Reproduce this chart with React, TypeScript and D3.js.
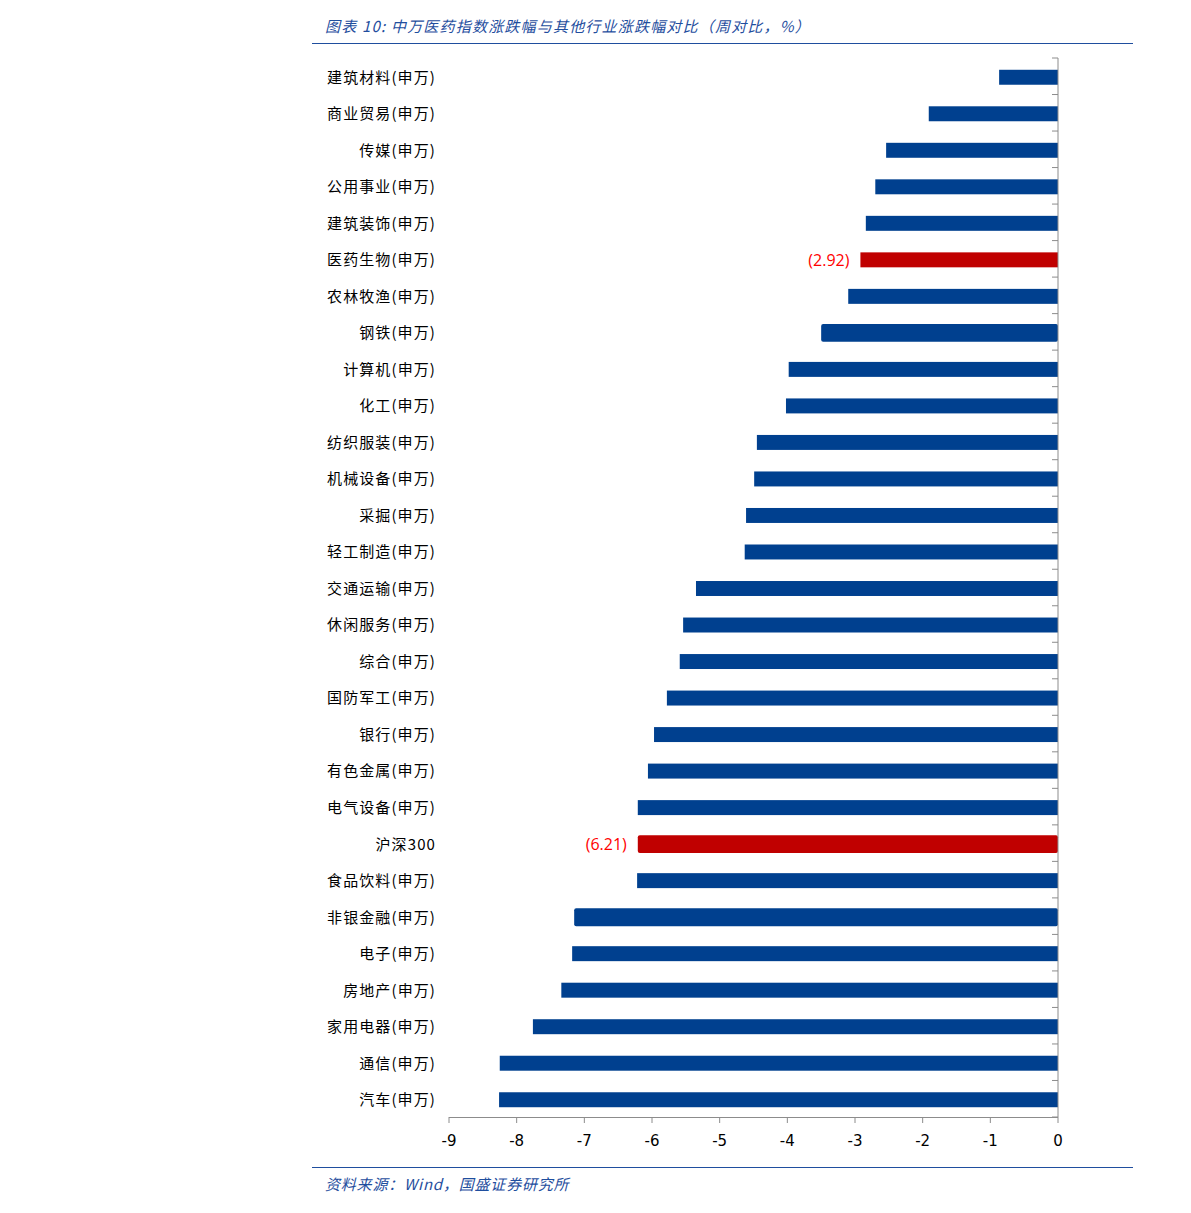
import React from "react";
import * as d3 from "d3";

const categories = [
  "建筑材料(申万)", "商业贸易(申万)", "传媒(申万)", "公用事业(申万)", "建筑装饰(申万)",
  "医药生物(申万)", "农林牧渔(申万)", "钢铁(申万)", "计算机(申万)", "化工(申万)",
  "纺织服装(申万)", "机械设备(申万)", "采掘(申万)", "轻工制造(申万)", "交通运输(申万)",
  "休闲服务(申万)", "综合(申万)", "国防军工(申万)", "银行(申万)", "有色金属(申万)",
  "电气设备(申万)", "沪深300", "食品饮料(申万)", "非银金融(申万)", "电子(申万)",
  "房地产(申万)", "家用电器(申万)", "通信(申万)", "汽车(申万)",
];
const values = [
  -0.87, -1.91, -2.54, -2.70, -2.84,
  -2.92, -3.10, -3.50, -3.98, -4.02,
  -4.45, -4.49, -4.61, -4.63, -5.35,
  -5.54, -5.59, -5.78, -5.97, -6.06,
  -6.21, -6.21, -6.22, -7.15, -7.18,
  -7.34, -7.76, -8.25, -8.26,
];
const highlighted = ["医药生物(申万)", "沪深300"];
const thickBars = ["钢铁(申万)", "沪深300", "非银金融(申万)"];
const xTicks = [-9, -8, -7, -6, -5, -4, -3, -2, -1, 0];
const titleText = "图表 10:  中万医药指数涨跌幅与其他行业涨跌幅对比（周对比，%）";
const sourceText = "资料来源：Wind，国盛证券研究所";

const BLUE = "#00408F";
const RED = "#C00000";
const AXIS = "#8C8C8C";
const TITLE_BLUE = "#1F4E9E";

export default function App() {
  const W = 1191, H = 1213;
  const x = d3.scaleLinear().domain([-9, 0]).range([449, 1058]);
  const y = d3.scaleBand<string>().domain(categories).range([58, 1117]).paddingInner(0.59).paddingOuter(0.3);
  const band = d3.scaleBand<string>().domain(categories).range([59, 1118]);
  const fmt = (v: number) => `(${Math.abs(v).toFixed(2)})`;
  const cjk = "'Noto Sans CJK SC', 'Noto Sans', sans-serif";
  return (
    <svg width={W} height={H} style={{ position: "absolute", left: 0, top: 0, background: "#fff" }}>
      {/* title */}
      <text x={325} y={32} fontFamily={cjk} fontSize={15} fontStyle="italic" fill={TITLE_BLUE}
        letterSpacing={1.2}>{titleText}</text>
      <line x1={312} x2={1133} y1={43.5} y2={43.5} stroke={TITLE_BLUE} strokeWidth={1.2} />

      {/* bars */}
      {categories.map((c, i) => {
        const v = values[i];
        const bw = y.bandwidth();
        const thick = thickBars.includes(c);
        const h = thick ? bw + 3 : bw;
        const cy = (band(c) as number) + band.bandwidth() / 2;
        const isHi = highlighted.includes(c);
        return (
          <g key={c}>
            <rect x={x(v)} y={cy - h / 2} width={x(0) - x(v)} height={h}
              fill={isHi ? RED : BLUE} rx={thick ? 2 : 0} />
            {isHi && (
              <text x={x(v) - 11} y={cy} dy="0.36em" textAnchor="end" fontSize={16}
                fontFamily="'Open Sans', 'Liberation Sans', sans-serif" fill="#FF0000">{fmt(v)}</text>
            )}
            <text x={436} y={cy} dy="0.36em" textAnchor="end" fontSize={15} fontFamily={cjk}
              letterSpacing={1.1} fill="#000">{c}</text>
          </g>
        );
      })}

      {/* vertical axis at zero */}
      <line x1={x(0)} x2={x(0)} y1={58} y2={1117} stroke={AXIS} strokeWidth={1} />
      {d3.range(categories.length + 1).map((k) => {
        const yy = 58 + k * band.step();
        return <line key={k} x1={x(0) - 6} x2={x(0)} y1={yy} y2={yy} stroke={AXIS} strokeWidth={1} />;
      })}

      {/* bottom axis */}
      <line x1={449} x2={x(0)} y1={1117.5} y2={1117.5} stroke={AXIS} strokeWidth={1} />
      {xTicks.map((t) => (
        <g key={t}>
          <line x1={x(t)} x2={x(t)} y1={1117} y2={1123} stroke={AXIS} strokeWidth={1} />
          <text x={x(t)} y={1146} textAnchor="middle" fontSize={15}
            fontFamily="'DejaVu Sans', Verdana, sans-serif" fill="#000">{t}</text>
        </g>
      ))}

      {/* footer */}
      <line x1={312} x2={1133} y1={1167.5} y2={1167.5} stroke={TITLE_BLUE} strokeWidth={1.2} />
      <text x={325} y={1190} fontFamily={cjk} fontSize={15} fontStyle="italic" fill={TITLE_BLUE}
        letterSpacing={0.8}>{sourceText}</text>
    </svg>
  );
}
